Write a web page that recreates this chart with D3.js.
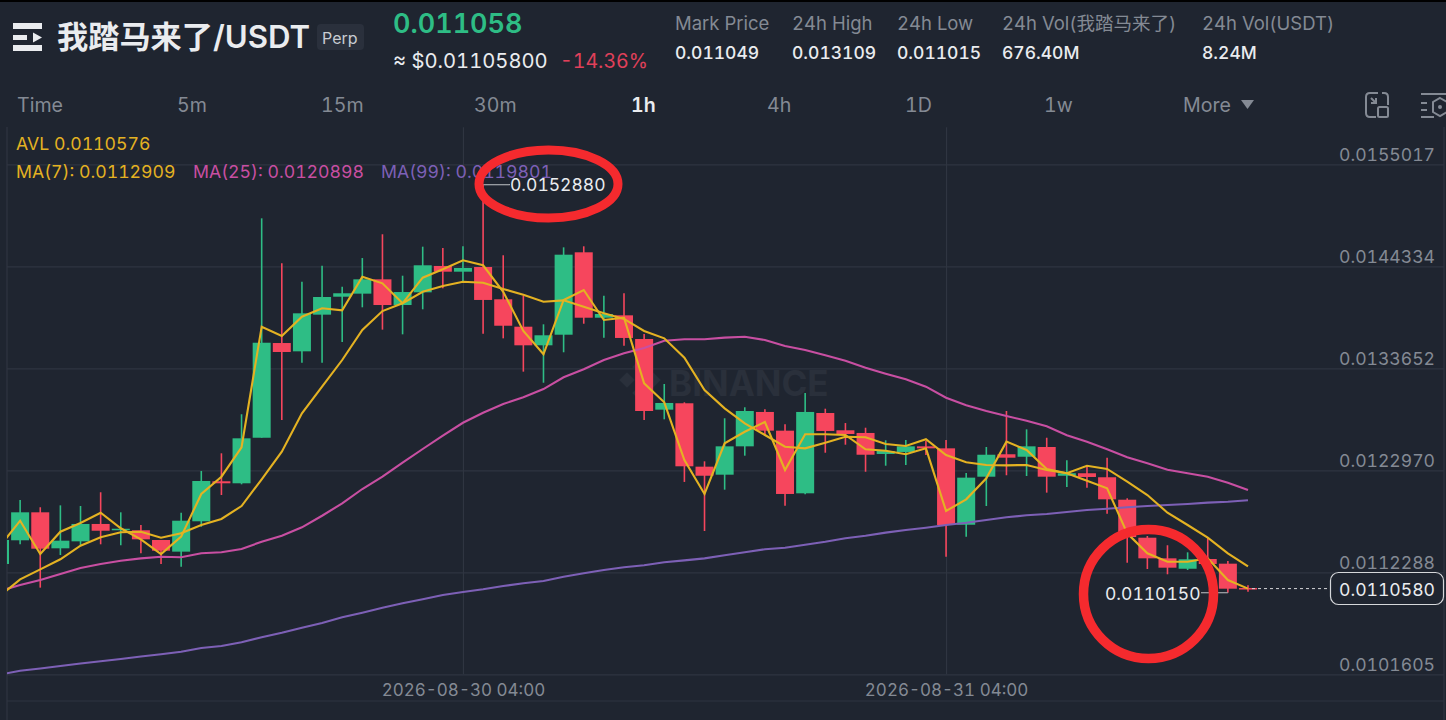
<!DOCTYPE html>
<html>
<head>
<meta charset="utf-8">
<script src="https://cdn.jsdelivr.net/npm/d3@7"></script>
<style>
html, body { margin: 0; padding: 0; background: #1f2530; overflow: hidden; }
svg { display: block; }
text { font-family: Inter, "Noto Sans CJK SC", sans-serif; font-variant-numeric: tabular-nums; }
</style>
</head>
<body>
<div id="chart"></div>
<script>
// all prices below are in millionths of USDT, one entry per hourly candle
var openE6 = [11316,11564,11857,11480,11553,11735,11669,11669,11567,11445,11763,12182,12161,12638,13630,13543,13927,14115,14147,14297,14028,14161,14437,14377,14426,14088,13801,13606,13717,14580,13895,13920,13672,12932,12999,12335,12251,12548,12908,12712,12056,12897,12716,12688,12468,12489,12548,12527,11727,12230,12465,12439,12541,12240,12266,12224,11989,11591,11375,11266,11368,11319,11064];
var highE6 = [11567,11986,11910,11930,11923,12067,11857,11724,11567,11853,12290,12475,12884,14936,14465,14272,14440,14220,14520,14769,14335,14639,14625,14643,15288,14549,14126,13826,14632,14643,14126,14151,13724,13201,13009,12391,12842,12957,12936,12779,13107,12942,12792,12743,12611,12614,12607,12614,12269,12541,12918,12726,12638,12402,12353,12429,12004,11609,11512,11438,11591,11347,11093];
var lowE6 = [11316,11522,11068,11410,11515,11522,11512,11428,11316,11287,11706,12038,12150,12638,12824,13424,13424,13641,14004,13770,13721,13983,14203,14272,13728,13679,13330,13214,13533,13832,13686,13602,12824,12831,12175,11661,12094,12450,12659,11926,12046,12481,12565,12282,12345,12353,12457,11392,11602,11923,12245,12237,12063,12122,12115,11842,11329,11263,11208,11253,11295,11015,11026];
var closeE6 = [11567,11857,11476,11560,11735,11664,11685,11574,11455,11769,12185,12161,12632,13633,13536,13941,14112,14151,14297,14028,14164,14444,14377,14416,14081,13811,13606,13711,14555,13895,13934,13683,12918,13002,12339,12240,12548,12918,12712,12049,12908,12709,12677,12460,12499,12548,12527,11724,12220,12460,12429,12548,12230,12266,12227,11993,11598,11375,11277,11365,11316,11057,11058];
var avlE6 = [11504,11769,11420,11654,11745,11853,11690,11574,11420,11602,12049,12230,12538,13801,13704,13906,13994,13973,14325,14255,14046,14314,14402,14496,14444,14167,13756,13512,14081,14185,13871,13895,13208,13009,12405,12049,12580,12701,12803,12300,12674,12674,12667,12517,12502,12465,12527,11871,11993,12213,12597,12510,12311,12266,12188,12109,11637,11428,11340,11340,11375,11148,11058];
var ma7E6 = [10983,11155,11260,11365,11507,11595,11648,11654,11591,11637,11724,11787,11923,12203,12492,12894,13173,13452,13766,13965,14046,14167,14227,14272,14262,14196,14136,14063,14077,14010,13941,13882,13756,13679,13476,13138,12946,12789,12667,12544,12527,12586,12649,12643,12573,12552,12622,12457,12381,12353,12349,12353,12300,12266,12345,12311,12178,12038,11853,11724,11591,11428,11290];
var ma25E6 = [11033,11096,11148,11211,11274,11316,11350,11375,11392,11386,11428,11438,11473,11549,11612,11700,11821,11951,12101,12230,12377,12520,12659,12795,12900,12991,13062,13148,13271,13355,13452,13522,13578,13654,13669,13669,13686,13696,13662,13599,13557,13501,13445,13372,13309,13250,13173,13057,12978,12918,12866,12816,12758,12664,12597,12517,12433,12370,12303,12266,12230,12167,12090];
var ma99E6 = [10158,10198,10221,10247,10274,10297,10321,10347,10370,10397,10436,10457,10496,10548,10596,10649,10698,10757,10806,10858,10904,10946,10991,11022,11051,11085,11114,11138,11183,11218,11253,11281,11302,11334,11354,11375,11407,11438,11470,11486,11518,11549,11585,11612,11644,11672,11696,11724,11748,11777,11805,11826,11839,11860,11881,11895,11910,11923,11934,11944,11958,11968,11983];

var priceTicks = [0.0155017, 0.0144334, 0.0133652, 0.0122970, 0.0112288, 0.0101605];
var dateTickIndex = [23, 47];
var dateTickLabels = ["2026-08-30 04:00", "2026-08-31 04:00"];
var lastPrice = 0.0110580;
var highMark = {index: 24, price: 0.0152880};
var lowMark = {index: 61, price: 0.0110150};

var statLabels = ["Mark Price", "24h High", "24h Low", "24h Vol(我踏马来了)", "24h Vol(USDT)"];
var statValues = ["0.011049", "0.013109", "0.011015", "676.40M", "8.24M"];
var statX = [675, 792, 897, 1002, 1202];
var navLabels = ["Time", "5m", "15m", "30m", "1h", "4h", "1D", "1w", "More"];
var navX = [17, 177, 321, 474, 631, 767, 905, 1044, 1183];

var BG = "#1f2530", GRID = "#2f3541", GREEN = "#2ebd85", RED = "#f6465d";
var YELLOW = "#e4b222", PINK = "#c84fa2", PURPLE = "#7d60b6", GREY = "#848a94", WHITE = "#eaecef";

var svg = d3.select("#chart").append("svg").attr("width", 1446).attr("height", 720);
svg.append("rect").attr("width", 1446).attr("height", 720).attr("fill", BG);
svg.append("rect").attr("width", 1446).attr("height", 2).attr("fill", "#000");

var x = d3.scaleLinear().domain([0, 62]).range([0, 1248]);
var y = d3.scaleLinear().domain([0.0101605, 0.0155017]).range([674.3, 164.3]);

// header
svg.append("rect").attr("x", 13).attr("y", 23).attr("width", 29).attr("height", 6).attr("fill", WHITE);
svg.append("rect").attr("x", 13).attr("y", 35).attr("width", 14).attr("height", 5).attr("fill", WHITE);
svg.append("path").attr("d", "M33 32.5L42 37.5L33 42.5Z").attr("fill", WHITE);
svg.append("rect").attr("x", 13).attr("y", 45).attr("width", 29).attr("height", 6).attr("fill", WHITE);
svg.append("text").attr("x", 57).attr("y", 48).attr("fill", WHITE)
	.attr("font-size", 31.2).attr("font-weight", 600).text("我踏马来了/USDT");
svg.append("rect").attr("x", 317).attr("y", 24).attr("width", 47).attr("height", 26).attr("rx", 4).attr("fill", "#2a303c");
svg.append("text").attr("x", 322).attr("y", 44).attr("fill", "#c8ccd2").attr("font-size", 16).text("Perp");
svg.append("text").attr("x", 393).attr("y", 33).attr("fill", GREEN)
	.attr("font-size", 27).attr("font-weight", 600).text("0.011058");
svg.append("text").attr("x", 393).attr("y", 68).attr("fill", WHITE).attr("font-size", 20.2).text("≈ $0.01105800");
svg.append("text").attr("x", 560).attr("y", 68).attr("fill", "#e0405a").attr("font-size", 19.6).text("-14.36%");

statLabels.forEach(function(d, i){
	svg.append("text").attr("x", statX[i]).attr("y", 30).attr("fill", GREY).attr("font-size", 18.5).text(d);
	svg.append("text").attr("x", statX[i]).attr("y", 59).attr("fill", WHITE)
		.attr("font-size", 17.5).attr("font-weight", 500).text(statValues[i]);
});
navLabels.forEach(function(d, i){
	svg.append("text").attr("x", navX[i]).attr("y", 112)
		.attr("fill", d == "1h" ? WHITE : GREY).attr("font-weight", d == "1h" ? 600 : 400)
		.attr("font-size", 19.6).text(d);
});
svg.append("path").attr("d", "M1241 100H1254L1247.5 109Z").attr("fill", GREY);
svg.append("path").attr("d", "M1378 93H1370Q1366 93 1366 97V113Q1366 117 1370 117H1376M1388 105V97Q1388 93 1384 93H1382M1371 98L1376 103M1376 98V103H1371")
	.attr("fill", "none").attr("stroke", GREY).attr("stroke-width", 2);
svg.append("rect").attr("x", 1378).attr("y", 107).attr("width", 10).attr("height", 10).attr("rx", 1.5)
	.attr("fill", "none").attr("stroke", GREY).attr("stroke-width", 2);
svg.append("path").attr("d", "M1421 94H1446M1421 103H1427M1421 110H1427M1421 117H1434")
	.attr("fill", "none").attr("stroke", GREY).attr("stroke-width", 2);
svg.append("path").attr("d", "M1440 98L1447 102V112L1440 116L1433 112V102Z")
	.attr("fill", "none").attr("stroke", GREY).attr("stroke-width", 2);
svg.append("circle").attr("cx", 1440).attr("cy", 107).attr("r", 2).attr("fill", GREY);

// frame and grid
var yAxis = d3.axisRight(y).tickValues(priceTicks).tickSize(-1437).tickFormat(d3.format(".7f"));
var gy = svg.append("g").attr("transform", "translate(1444,0)").call(yAxis);
gy.select(".domain").remove();
gy.selectAll("line").attr("stroke", GRID).attr("stroke-width", 1.2);
gy.selectAll("text").attr("x", -9).attr("dy", -4).attr("text-anchor", "end")
	.attr("fill", GREY).attr("font-size", 17.6).attr("font-family", "Inter");

var xAxis = d3.axisBottom(x).tickValues(dateTickIndex).tickSize(-547)
	.tickFormat(function(d, i){ return dateTickLabels[i]; });
var gx = svg.append("g").attr("transform", "translate(0,674.3)").call(xAxis);
gx.select(".domain").remove();
gx.selectAll("line").attr("stroke", GRID).attr("stroke-width", 1.2);
gx.selectAll("text").attr("y", 22).attr("dy", 0)
	.attr("fill", GREY).attr("font-size", 17).attr("font-family", "Inter");

svg.append("line").attr("x1", 7).attr("x2", 7).attr("y1", 127).attr("y2", 720).attr("stroke", GRID).attr("stroke-width", 1.2);
svg.append("line").attr("x1", 1444).attr("x2", 1444).attr("y1", 127).attr("y2", 720).attr("stroke", GRID).attr("stroke-width", 1.2);
svg.append("line").attr("x1", 7).attr("x2", 1444).attr("y1", 701).attr("y2", 701).attr("stroke", GRID).attr("stroke-width", 1.2);

// watermark
var mark = svg.append("g").attr("fill", "#2a303b");
[[640, 367], [627, 380], [653, 380], [640, 393]].forEach(function(p){
	mark.append("rect").attr("x", p[0] - 5.5).attr("y", p[1] - 5.5).attr("width", 11).attr("height", 11)
		.attr("transform", "rotate(45 " + p[0] + " " + p[1] + ")");
});
mark.append("text").attr("x", 669).attr("y", 396).attr("font-size", 35).attr("font-weight", 700).text("BINANCE");

// legend
svg.append("text").attr("x", 16).attr("y", 150).attr("fill", YELLOW).attr("font-size", 17.7).text("AVL 0.0110576");
svg.append("text").attr("x", 16).attr("y", 178).attr("fill", YELLOW).attr("font-size", 17.7).text("MA(7): 0.0112909");
svg.append("text").attr("x", 193).attr("y", 178).attr("fill", PINK).attr("font-size", 17.7).text("MA(25): 0.0120898");
svg.append("text").attr("x", 381).attr("y", 178).attr("fill", PURPLE).attr("font-size", 17.7).text("MA(99): 0.0119801");

// candles
svg.append("clipPath").attr("id", "plot").append("rect").attr("x", 7).attr("y", 127).attr("width", 1437).attr("height", 574);
var plot = svg.append("g").attr("clip-path", "url(#plot)");
var candles = plot.selectAll("g.candle").data(d3.range(openE6.length)).enter().append("g").attr("class", "candle");
function colour(i){ return closeE6[i] >= openE6[i] ? GREEN : RED; }

candles.append("line")
	.attr("x1", function(i){ return x(i); })
	.attr("x2", function(i){ return x(i); })
	.attr("y1", function(i){ return y(highE6[i] / 1e6); })
	.attr("y2", function(i){ return y(lowE6[i] / 1e6); })
	.attr("stroke", colour).attr("stroke-width", 1.6);
candles.append("rect")
	.attr("x", function(i){ return x(i) - 9; })
	.attr("width", 18)
	.attr("y", function(i){ return y(Math.max(openE6[i], closeE6[i]) / 1e6); })
	.attr("height", function(i){ return Math.max(1.5, Math.abs(y(openE6[i] / 1e6) - y(closeE6[i] / 1e6))); })
	.attr("fill", colour);

// average lines
var line = d3.line().x(function(d, i){ return x(i); }).y(function(d){ return y(d / 1e6); });
[[ma99E6, PURPLE], [ma25E6, PINK], [ma7E6, YELLOW], [avlE6, YELLOW]].forEach(function(s){
	plot.append("path").attr("d", line(s[0])).attr("fill", "none").attr("stroke", s[1]).attr("stroke-width", 2.1);
});

// last price line and tag
svg.append("line").attr("x1", x(62) + 4).attr("x2", 1330).attr("y1", y(lastPrice)).attr("y2", y(lastPrice))
	.attr("stroke", "#d5d7da").attr("stroke-width", 1).attr("stroke-dasharray", "3,3");
svg.append("rect").attr("x", 1330.5).attr("y", 572.5).attr("width", 113).attr("height", 32).attr("rx", 8)
	.attr("fill", BG).attr("stroke", "#d5d7da").attr("stroke-width", 1.2);
svg.append("text").attr("x", 1435).attr("y", 596).attr("text-anchor", "end").attr("fill", WHITE)
	.attr("font-size", 17.6).text(d3.format(".7f")(lastPrice));

// high and low marks
svg.append("line").attr("x1", x(highMark.index)).attr("x2", 510).attr("y1", y(highMark.price)).attr("y2", y(highMark.price))
	.attr("stroke", "#a6a9ae").attr("stroke-width", 1.2);
svg.append("text").attr("x", 510).attr("y", 191).attr("fill", WHITE).attr("font-size", 17.5).text(d3.format(".7f")(highMark.price));
svg.append("line").attr("x1", 1201).attr("x2", x(lowMark.index)).attr("y1", y(lowMark.price)).attr("y2", y(lowMark.price))
	.attr("stroke", "#a6a9ae").attr("stroke-width", 1.2);
svg.append("text").attr("x", 1105).attr("y", 600).attr("fill", WHITE).attr("font-size", 17.5).text(d3.format(".7f")(lowMark.price));

// hand drawn red circles
svg.append("ellipse").attr("cx", 548.5).attr("cy", 184).attr("rx", 69.5).attr("ry", 34)
	.attr("fill", "none").attr("stroke", "#f52a2e").attr("stroke-width", 9);
svg.append("ellipse").attr("cx", 1148.5).attr("cy", 594).attr("rx", 65).attr("ry", 64.5)
	.attr("fill", "none").attr("stroke", "#f52a2e").attr("stroke-width", 9.5);
</script>
</body>
</html>
